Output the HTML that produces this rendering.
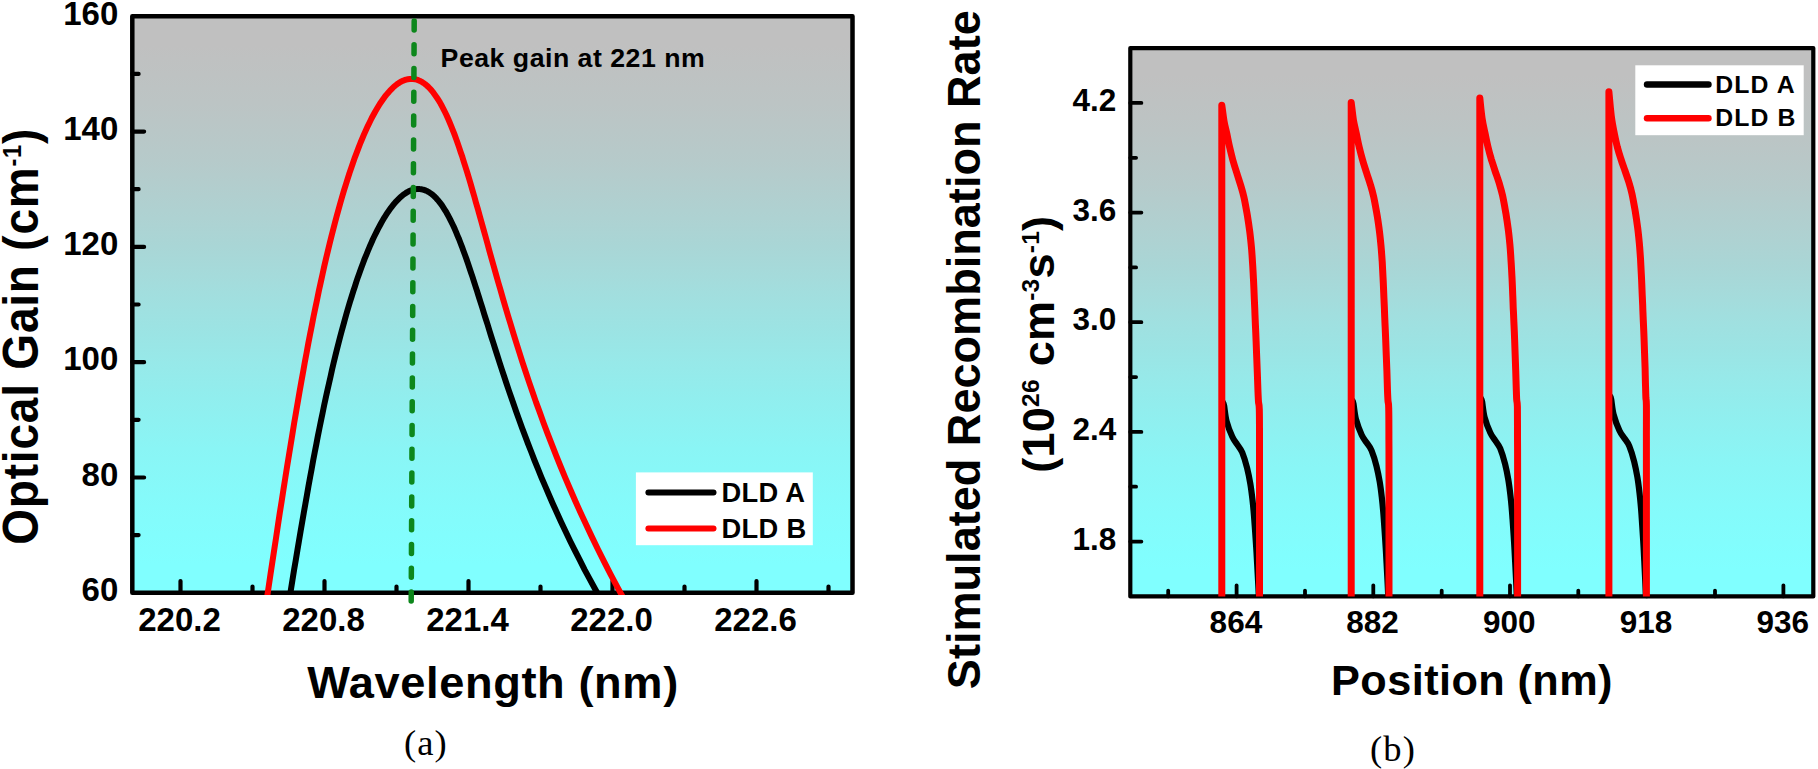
<!DOCTYPE html>
<html lang="en">
<head>
<meta charset="utf-8">
<title>Optical gain and stimulated recombination rate</title>
<style>
html,body{margin:0;padding:0;background:#fff;}
body{width:1818px;height:769px;overflow:hidden;}
svg{display:block;}
text{font-family:"Liberation Sans",sans-serif;font-weight:bold;fill:#000;}
text.cap{font-family:"Liberation Serif",serif;font-weight:normal;}
</style>
</head>
<body>
<svg width="1818" height="769" viewBox="0 0 1818 769">
<defs>
<linearGradient id="bg" x1="0" y1="0" x2="0" y2="1">
<stop offset="0.00" stop-color="#c0c0c0"/>
<stop offset="0.05" stop-color="#c0c0c0"/>
<stop offset="0.10" stop-color="#bec2c2"/>
<stop offset="0.15" stop-color="#bcc4c4"/>
<stop offset="0.20" stop-color="#b9c7c7"/>
<stop offset="0.25" stop-color="#b6caca"/>
<stop offset="0.30" stop-color="#b2cece"/>
<stop offset="0.35" stop-color="#aed2d2"/>
<stop offset="0.40" stop-color="#a9d6d6"/>
<stop offset="0.45" stop-color="#a5dbdb"/>
<stop offset="0.50" stop-color="#a0e0e0"/>
<stop offset="0.55" stop-color="#9be4e4"/>
<stop offset="0.60" stop-color="#97e9e9"/>
<stop offset="0.65" stop-color="#92eded"/>
<stop offset="0.70" stop-color="#8ef1f1"/>
<stop offset="0.75" stop-color="#8af5f5"/>
<stop offset="0.80" stop-color="#87f8f8"/>
<stop offset="0.85" stop-color="#84fbfb"/>
<stop offset="0.90" stop-color="#82fdfd"/>
<stop offset="0.95" stop-color="#80ffff"/>
<stop offset="1.00" stop-color="#80ffff"/>
</linearGradient>
<clipPath id="clipL"><rect x="132.3" y="16.3" width="720.2" height="578.8"/></clipPath>
<clipPath id="clipR"><rect x="1130.3" y="48.1" width="683.0" height="548.3"/></clipPath>
</defs>
<rect width="1818" height="769" fill="#fff"/>

<g id="plot-a">
<rect x="132.3" y="16.3" width="720.2" height="576.5" fill="url(#bg)"/>
<path d="M180.5,592.8V581.0M252.5,592.8V586.5M324.5,592.8V581.0M396.5,592.8V586.5M468.5,592.8V581.0M540.5,592.8V586.5M612.5,592.8V581.0M684.5,592.8V586.5M756.5,592.8V581.0M828.5,592.8V586.5M132.3,477.5H144.1M132.3,362.2H144.1M132.3,246.9H144.1M132.3,131.6H144.1M132.3,535.1H138.6M132.3,419.8H138.6M132.3,304.5H138.6M132.3,189.2H138.6M132.3,73.9H138.6" fill="none" stroke="#000" stroke-width="4.2" stroke-linecap="round"/>
<rect x="132.3" y="16.3" width="720.2" height="576.5" fill="none" stroke="#000" stroke-width="4.5" stroke-linejoin="round"/>
<g clip-path="url(#clipL)" fill="none" stroke-linejoin="round" stroke-linecap="round">
<path d="M289.2,600.0 L290.9,589.8 L292.5,579.7 L294.1,569.8 L295.8,559.9 L297.4,550.2 L299.0,540.7 L300.6,531.2 L302.2,521.9 L303.8,512.7 L305.4,503.7 L307.0,494.7 L308.5,485.9 L310.1,477.3 L311.7,468.7 L313.2,460.3 L314.8,452.0 L316.4,443.9 L317.9,435.9 L319.5,428.0 L321.1,420.2 L322.7,412.5 L324.2,405.0 L325.8,397.6 L327.4,390.4 L329.0,383.3 L330.6,376.3 L332.1,369.4 L333.7,362.6 L335.3,356.0 L336.9,349.5 L338.5,343.2 L340.1,337.0 L341.7,330.9 L343.4,324.9 L345.0,319.0 L346.6,313.3 L348.2,307.7 L349.8,302.3 L351.5,297.0 L353.1,291.8 L354.8,286.7 L356.4,281.7 L358.0,276.9 L359.7,272.2 L361.3,267.7 L363.0,263.2 L364.6,258.9 L366.3,254.8 L368.0,250.7 L369.6,246.8 L371.3,243.0 L372.9,239.3 L374.6,235.8 L376.3,232.4 L377.9,229.1 L379.6,226.0 L381.2,223.0 L382.9,220.1 L384.5,217.3 L386.2,214.7 L387.8,212.2 L389.5,209.8 L391.1,207.6 L392.8,205.4 L394.4,203.4 L396.0,201.6 L397.7,199.9 L399.3,198.2 L400.9,196.8 L402.5,195.4 L404.1,194.2 L405.7,193.1 L407.3,192.1 L408.9,191.3 L410.5,190.6 L412.1,190.0 L413.6,189.6 L415.2,189.3 L416.7,189.1 L418.3,189.0 L419.8,189.1 L421.3,189.3 L422.9,189.6 L424.4,190.0 L425.9,190.6 L427.4,191.3 L428.9,192.1 L430.3,193.1 L431.8,194.2 L433.3,195.4 L434.8,196.8 L436.2,198.2 L437.7,199.9 L439.1,201.6 L440.5,203.4 L442.0,205.4 L443.4,207.6 L444.8,209.8 L446.3,212.2 L447.7,214.7 L449.1,217.3 L450.5,220.1 L451.9,223.0 L453.4,226.0 L454.8,229.1 L456.2,232.4 L457.6,235.8 L459.1,239.3 L460.5,243.0 L462.0,246.8 L463.4,250.7 L464.9,254.8 L466.4,258.9 L467.9,263.2 L469.4,267.7 L470.9,272.2 L472.5,276.9 L474.0,281.7 L475.6,286.7 L477.3,291.8 L478.9,297.0 L480.6,302.3 L482.3,307.7 L484.0,313.3 L485.8,319.0 L487.7,324.9 L489.5,330.9 L491.4,337.0 L493.4,343.2 L495.4,349.5 L497.5,356.0 L499.6,362.6 L501.8,369.4 L504.1,376.3 L506.4,383.3 L508.8,390.4 L511.3,397.6 L513.9,405.0 L516.5,412.5 L519.3,420.2 L522.1,428.0 L525.1,435.9 L528.1,443.9 L531.3,452.0 L534.5,460.3 L537.9,468.7 L541.4,477.3 L545.1,485.9 L548.9,494.7 L552.8,503.7 L556.9,512.7 L561.1,521.9 L565.5,531.2 L570.0,540.7 L574.7,550.2 L579.7,559.9 L584.7,569.8 L590.0,579.7 L595.5,589.8 L601.2,600.0" stroke="#000" stroke-width="6"/>
<path d="M266.7,600.0 L268.6,587.1 L270.5,574.3 L272.4,561.7 L274.3,549.2 L276.2,536.9 L278.0,524.8 L279.8,512.8 L281.7,501.0 L283.5,489.3 L285.3,477.9 L287.1,466.5 L288.9,455.4 L290.7,444.4 L292.5,433.6 L294.2,422.9 L296.0,412.4 L297.8,402.1 L299.5,391.9 L301.3,381.9 L303.1,372.0 L304.8,362.3 L306.6,352.8 L308.3,343.4 L310.1,334.2 L311.9,325.2 L313.6,316.3 L315.4,307.6 L317.2,299.1 L318.9,290.7 L320.7,282.5 L322.5,274.4 L324.2,266.5 L326.0,258.8 L327.8,251.2 L329.6,243.8 L331.4,236.5 L333.2,229.4 L335.0,222.5 L336.8,215.8 L338.6,209.2 L340.4,202.7 L342.2,196.5 L344.0,190.4 L345.9,184.4 L347.7,178.6 L349.5,173.0 L351.4,167.6 L353.2,162.3 L355.0,157.1 L356.9,152.2 L358.7,147.4 L360.5,142.7 L362.4,138.3 L364.2,133.9 L366.1,129.8 L367.9,125.8 L369.8,122.0 L371.6,118.3 L373.5,114.8 L375.3,111.5 L377.2,108.3 L379.0,105.3 L380.8,102.4 L382.7,99.7 L384.5,97.2 L386.3,94.9 L388.2,92.7 L390.0,90.6 L391.8,88.8 L393.6,87.0 L395.4,85.5 L397.2,84.1 L399.0,82.9 L400.8,81.8 L402.6,80.9 L404.4,80.2 L406.1,79.6 L407.9,79.2 L409.7,79.0 L411.4,78.9 L413.1,79.0 L414.9,79.2 L416.6,79.6 L418.3,80.2 L420.0,80.9 L421.7,81.8 L423.4,82.9 L425.1,84.1 L426.8,85.5 L428.4,87.0 L430.1,88.8 L431.7,90.6 L433.4,92.7 L435.0,94.9 L436.6,97.2 L438.3,99.7 L439.9,102.4 L441.5,105.3 L443.1,108.3 L444.7,111.5 L446.3,114.8 L447.9,118.3 L449.5,122.0 L451.1,125.8 L452.7,129.8 L454.3,133.9 L455.9,138.3 L457.5,142.7 L459.1,147.4 L460.7,152.2 L462.4,157.1 L464.0,162.3 L465.7,167.6 L467.4,173.0 L469.1,178.6 L470.8,184.4 L472.5,190.4 L474.3,196.5 L476.0,202.7 L477.9,209.2 L479.7,215.8 L481.6,222.5 L483.5,229.4 L485.5,236.5 L487.5,243.8 L489.5,251.2 L491.6,258.8 L493.8,266.5 L496.0,274.4 L498.3,282.5 L500.7,290.7 L503.1,299.1 L505.6,307.6 L508.2,316.3 L510.9,325.2 L513.6,334.2 L516.5,343.4 L519.5,352.8 L522.5,362.3 L525.7,372.0 L529.0,381.9 L532.5,391.9 L536.0,402.1 L539.8,412.4 L543.6,422.9 L547.6,433.6 L551.8,444.4 L556.1,455.4 L560.6,466.5 L565.3,477.9 L570.2,489.3 L575.3,501.0 L580.6,512.8 L586.2,524.8 L591.9,536.9 L597.9,549.2 L604.1,561.7 L610.6,574.3 L617.4,587.1 L624.4,600.0" stroke="#ff0000" stroke-width="6"/>
</g>
<line x1="414.2" y1="20.9" x2="411.2" y2="601.2" stroke="#0d871c" stroke-width="5.5" stroke-linecap="round" stroke-dasharray="9 14.8"/>
<rect x="635.9" y="472.4" width="176.9" height="72.8" fill="#fff"/>
<line x1="648.4" y1="492.5" x2="713.5" y2="492.5" stroke="#000" stroke-width="6" stroke-linecap="round"/>
<line x1="648.4" y1="528.5" x2="713.5" y2="528.5" stroke="#ff0000" stroke-width="6" stroke-linecap="round"/>
<text x="721.5" y="501.9" font-size="27.3" letter-spacing="0.3">DLD A</text>
<text x="721.5" y="538" font-size="27.3" letter-spacing="0.3">DLD B</text>
<text x="440.6" y="67" font-size="26.7" letter-spacing="0.5">Peak gain at 221 nm</text>
<text x="118.3" y="601.0" font-size="33" text-anchor="end">60</text>
<text x="118.3" y="485.7" font-size="33" text-anchor="end">80</text>
<text x="118.3" y="370.4" font-size="33" text-anchor="end">100</text>
<text x="118.3" y="255.1" font-size="33" text-anchor="end">120</text>
<text x="118.3" y="139.8" font-size="33" text-anchor="end">140</text>
<text x="118.3" y="24.5" font-size="33" text-anchor="end">160</text>
<text x="179.5" y="630.6" font-size="33" text-anchor="middle">220.2</text>
<text x="323.5" y="630.6" font-size="33" text-anchor="middle">220.8</text>
<text x="467.5" y="630.6" font-size="33" text-anchor="middle">221.4</text>
<text x="611.5" y="630.6" font-size="33" text-anchor="middle">222.0</text>
<text x="755.5" y="630.6" font-size="33" text-anchor="middle">222.6</text>
<text x="493" y="698.2" font-size="45.2" letter-spacing="0.62" text-anchor="middle">Wavelength (nm)</text>
<text transform="translate(37.9,336.3) rotate(-90) scale(1,1.07)" font-size="46" letter-spacing="0.8" text-anchor="middle">Optical Gain (cm<tspan font-size="23.5" dy="-16">-1</tspan><tspan dy="16">)</tspan></text>
<text class="cap" x="425.8" y="755" font-size="36.5" letter-spacing="1.1" text-anchor="middle">(a)</text>
</g>
<g id="plot-b">
<rect x="1130.3" y="48.1" width="683.0" height="548.3" fill="url(#bg)"/>
<path d="M1236.6,596.4V585.3M1168.2,596.4V590.6M1373.3,596.4V585.3M1305.0,596.4V590.6M1510.0,596.4V585.3M1441.7,596.4V590.6M1646.7,596.4V585.3M1578.3,596.4V590.6M1783.4,596.4V585.3M1715.0,596.4V590.6M1130.3,541.6H1141.4M1130.3,431.9H1141.4M1130.3,322.2H1141.4M1130.3,212.6H1141.4M1130.3,102.9H1141.4M1130.3,486.7H1136.1M1130.3,377.1H1136.1M1130.3,267.4H1136.1M1130.3,157.8H1136.1" fill="none" stroke="#000" stroke-width="3.8" stroke-linecap="round"/>
<rect x="1130.3" y="48.1" width="683.0" height="548.3" fill="none" stroke="#000" stroke-width="4.2" stroke-linejoin="round"/>
<g clip-path="url(#clipR)" fill="none" stroke-linejoin="round" stroke-linecap="round">
<path d="M1223.0,402.5C1223.2,403.0 1223.5,402.5 1224.1,405.6C1224.7,408.7 1225.2,416.0 1226.6,421.2C1228.0,426.4 1230.5,432.9 1232.3,436.8C1234.1,440.7 1235.6,442.0 1237.3,444.6C1239.0,447.2 1240.6,448.5 1242.2,452.4C1243.8,456.3 1245.8,462.8 1247.1,468.0C1248.4,473.2 1249.4,478.4 1250.3,483.6C1251.2,488.8 1251.9,494.8 1252.4,499.2C1252.9,503.6 1253.2,506.3 1253.5,510.0C1253.8,513.7 1253.9,514.1 1254.4,521.2C1254.9,528.3 1255.9,542.0 1256.5,552.4C1257.1,562.8 1257.8,576.3 1258.2,583.6C1258.6,590.9 1258.7,594.3 1258.8,596.4" stroke="#000" stroke-width="6.2"/>
<path d="M1352.4,400.7C1352.6,401.2 1352.9,400.7 1353.5,403.8C1354.1,406.9 1354.6,414.2 1356.0,419.4C1357.4,424.6 1359.9,431.1 1361.7,435.0C1363.5,438.9 1365.0,440.2 1366.7,442.8C1368.4,445.4 1370.0,446.7 1371.6,450.6C1373.2,454.5 1375.2,461.0 1376.5,466.2C1377.8,471.4 1378.8,476.6 1379.7,481.8C1380.6,487.0 1381.3,493.0 1381.8,497.4C1382.3,501.8 1382.6,504.5 1382.9,508.2C1383.2,511.9 1383.3,512.3 1383.8,519.4C1384.3,526.5 1385.3,540.4 1385.9,551.1C1386.5,561.7 1387.2,575.7 1387.6,583.2C1388.0,590.8 1388.1,594.2 1388.2,596.4" stroke="#000" stroke-width="6.2"/>
<path d="M1481.0,398.5C1481.2,399.0 1481.5,398.5 1482.1,401.6C1482.7,404.7 1483.2,412.0 1484.6,417.2C1486.0,422.4 1488.5,428.9 1490.3,432.8C1492.1,436.7 1493.6,438.0 1495.3,440.6C1497.0,443.2 1498.6,444.5 1500.2,448.4C1501.8,452.3 1503.8,458.8 1505.1,464.0C1506.4,469.2 1507.4,474.4 1508.3,479.6C1509.2,484.8 1509.9,490.8 1510.4,495.2C1510.9,499.6 1511.2,502.3 1511.5,506.0C1511.8,509.7 1511.9,510.0 1512.4,517.2C1512.9,524.4 1513.9,538.5 1514.5,549.5C1515.1,560.4 1515.8,574.9 1516.2,582.7C1516.6,590.6 1516.7,594.1 1516.8,596.4" stroke="#000" stroke-width="6.2"/>
<path d="M1610.1,396.2C1610.3,396.7 1610.6,396.2 1611.2,399.3C1611.8,402.4 1612.3,409.7 1613.7,414.9C1615.1,420.1 1617.6,426.6 1619.4,430.5C1621.2,434.4 1622.8,435.7 1624.4,438.3C1626.1,440.9 1627.7,442.2 1629.3,446.1C1630.9,450.0 1632.9,456.5 1634.2,461.7C1635.5,466.9 1636.5,472.1 1637.4,477.3C1638.3,482.5 1639.0,488.5 1639.5,492.9C1640.0,497.3 1640.3,500.0 1640.6,503.7C1640.9,507.4 1641.0,507.6 1641.5,514.9C1642.0,522.2 1643.0,536.6 1643.6,547.8C1644.2,559.0 1644.9,574.2 1645.3,582.3C1645.7,590.4 1645.8,594.0 1645.9,596.4" stroke="#000" stroke-width="6.2"/>
<path d="M1221.8,601.4L1221.8,105.3C1222.2,107.9 1223.2,116.2 1224.0,121.0C1224.8,125.8 1226.0,129.7 1226.9,134.0C1227.8,138.3 1228.6,142.7 1229.6,147.0C1230.6,151.3 1231.7,155.7 1232.8,160.0C1234.0,164.3 1235.4,168.7 1236.8,173.0C1238.1,177.3 1239.7,181.9 1240.9,186.0C1242.1,190.1 1242.9,192.6 1244.0,197.5C1245.1,202.4 1246.4,210.0 1247.4,215.6C1248.3,221.2 1249.0,226.0 1249.7,231.2C1250.4,236.4 1250.9,241.6 1251.4,246.8C1251.9,252.0 1252.2,257.2 1252.5,262.4C1252.9,267.6 1253.1,272.8 1253.4,278.0C1253.7,283.2 1253.9,288.4 1254.1,293.6C1254.3,298.9 1254.6,305.1 1254.8,309.5C1254.9,313.9 1255.0,314.7 1255.2,320.0C1255.4,325.3 1255.8,332.5 1256.1,341.2C1256.4,349.9 1257.0,363.9 1257.3,372.4C1257.6,380.9 1257.8,387.1 1258.0,392.0C1258.2,396.9 1258.3,399.2 1258.5,402.0C1258.7,404.8 1259.1,402.7 1259.3,409.0C1259.5,415.3 1259.5,429.8 1259.5,440.0C1259.5,450.2 1259.5,465.0 1259.5,470.0L1259.5,601.4" stroke="#ff0000" stroke-width="7"/>
<path d="M1351.2,601.4L1351.2,102.4C1351.6,105.3 1352.6,114.7 1353.4,120.0C1354.3,125.2 1355.5,129.5 1356.4,134.0C1357.4,138.5 1358.1,142.7 1359.2,147.0C1360.2,151.3 1361.3,155.5 1362.5,159.7C1363.6,163.9 1365.0,168.0 1366.4,172.2C1367.7,176.5 1369.3,181.0 1370.5,185.0C1371.7,189.0 1372.5,191.6 1373.6,196.5C1374.7,201.4 1376.0,209.0 1377.0,214.6C1378.0,220.2 1378.6,225.0 1379.3,230.2C1380.0,235.4 1380.5,240.6 1381.0,245.8C1381.5,251.0 1381.8,256.2 1382.2,261.4C1382.5,266.6 1382.7,271.8 1383.0,277.0C1383.3,282.2 1383.5,287.4 1383.7,292.6C1383.9,297.9 1384.2,304.1 1384.4,308.5C1384.5,312.9 1384.6,313.7 1384.8,319.0C1385.0,324.3 1385.4,331.5 1385.7,340.2C1386.0,348.9 1386.6,362.9 1386.9,371.4C1387.2,379.9 1387.3,386.1 1387.5,391.0C1387.7,395.9 1387.8,398.2 1388.0,401.0C1388.2,403.8 1388.6,401.7 1388.7,408.0C1388.9,414.3 1388.9,428.8 1388.9,439.0C1389.0,449.2 1389.0,464.0 1389.0,469.0L1389.0,601.4" stroke="#ff0000" stroke-width="7"/>
<path d="M1479.8,601.4L1479.8,98.0C1480.2,101.4 1481.2,112.4 1482.1,118.4C1483.0,124.4 1484.2,129.2 1485.2,134.0C1486.1,138.7 1487.0,142.8 1488.0,147.0C1489.0,151.2 1490.1,155.2 1491.3,159.3C1492.6,163.3 1493.9,167.2 1495.2,171.3C1496.6,175.4 1498.2,179.8 1499.4,183.8C1500.6,187.8 1501.4,190.4 1502.5,195.3C1503.6,200.2 1504.9,207.8 1505.9,213.4C1506.8,219.0 1507.5,223.8 1508.2,229.0C1508.9,234.2 1509.4,239.4 1509.9,244.6C1510.4,249.8 1510.7,255.0 1511.0,260.2C1511.4,265.4 1511.6,270.6 1511.9,275.8C1512.2,281.0 1512.4,286.2 1512.6,291.4C1512.8,296.7 1513.1,302.9 1513.2,307.3C1513.4,311.7 1513.5,312.5 1513.7,317.8C1513.9,323.1 1514.3,330.3 1514.6,339.0C1514.9,347.7 1515.4,361.7 1515.7,370.2C1516.0,378.7 1516.1,384.9 1516.3,389.8C1516.5,394.7 1516.5,397.0 1516.7,399.8C1516.9,402.6 1517.2,400.5 1517.4,406.8C1517.5,413.1 1517.5,427.6 1517.5,437.8C1517.6,448.0 1517.6,462.8 1517.6,467.8L1517.6,601.4" stroke="#ff0000" stroke-width="7"/>
<path d="M1608.9,601.4L1608.9,91.8C1609.3,95.9 1610.4,109.1 1611.3,116.1C1612.2,123.2 1613.4,128.8 1614.4,133.9C1615.4,139.1 1616.3,142.9 1617.3,147.0C1618.4,151.1 1619.5,154.8 1620.8,158.6C1622.0,162.5 1623.3,166.0 1624.7,169.9C1626.0,173.8 1627.6,178.1 1628.8,182.0C1630.0,185.9 1630.8,188.6 1631.9,193.5C1633.0,198.4 1634.3,206.0 1635.3,211.6C1636.2,217.2 1636.9,222.0 1637.6,227.2C1638.3,232.4 1638.8,237.6 1639.3,242.8C1639.8,248.0 1640.1,253.2 1640.5,258.4C1640.8,263.6 1641.0,268.8 1641.3,274.0C1641.6,279.2 1641.8,284.4 1642.0,289.6C1642.2,294.9 1642.5,301.1 1642.7,305.5C1642.8,309.9 1642.9,310.7 1643.1,316.0C1643.3,321.3 1643.7,328.5 1644.0,337.2C1644.3,345.9 1644.8,359.9 1645.1,368.4C1645.3,376.9 1645.4,383.1 1645.6,388.0C1645.7,392.9 1645.8,395.2 1645.9,398.0C1646.1,400.8 1646.3,398.7 1646.4,405.0C1646.5,411.3 1646.4,425.8 1646.4,436.0C1646.4,446.2 1646.4,461.0 1646.4,466.0L1646.4,601.4" stroke="#ff0000" stroke-width="7"/>
</g>
<rect x="1635.3" y="65.3" width="168.4" height="69.9" fill="#fff"/>
<line x1="1647" y1="84.5" x2="1708.5" y2="84.5" stroke="#000" stroke-width="6.4" stroke-linecap="round"/>
<line x1="1647" y1="118.3" x2="1708.5" y2="118.3" stroke="#ff0000" stroke-width="6.4" stroke-linecap="round"/>
<text x="1715.3" y="92.7" font-size="24.8" letter-spacing="1.1">DLD A</text>
<text x="1715.3" y="126.2" font-size="24.8" letter-spacing="1.1">DLD B</text>
<text x="1116.3" y="549.8" font-size="31.5" text-anchor="end">1.8</text>
<text x="1116.3" y="440.1" font-size="31.5" text-anchor="end">2.4</text>
<text x="1116.3" y="330.4" font-size="31.5" text-anchor="end">3.0</text>
<text x="1116.3" y="220.8" font-size="31.5" text-anchor="end">3.6</text>
<text x="1116.3" y="111.1" font-size="31.5" text-anchor="end">4.2</text>
<text x="1235.9" y="632.7" font-size="31.5" text-anchor="middle">864</text>
<text x="1372.6" y="632.7" font-size="31.5" text-anchor="middle">882</text>
<text x="1509.3" y="632.7" font-size="31.5" text-anchor="middle">900</text>
<text x="1646.0" y="632.7" font-size="31.5" text-anchor="middle">918</text>
<text x="1782.7" y="632.7" font-size="31.5" text-anchor="middle">936</text>
<text x="1472" y="694.6" font-size="43.3" letter-spacing="0.4" text-anchor="middle">Position (nm)</text>
<text transform="translate(980.3,349.7) rotate(-90) scale(1,1.03)" font-size="45.1" letter-spacing="0" text-anchor="middle">Stimulated Recombination Rate</text>
<text transform="translate(1054.4,344.2) rotate(-90)" font-size="45" letter-spacing="0.25" text-anchor="middle">(10<tspan font-size="24.5" dy="-15.5">26</tspan><tspan dy="15.5"> cm</tspan><tspan font-size="24.5" dy="-15.5">-3</tspan><tspan dy="15.5">s</tspan><tspan font-size="24.5" dy="-15.5">-1</tspan><tspan dy="15.5">)</tspan></text>
<text class="cap" x="1393" y="760.8" font-size="36.5" letter-spacing="1.1" text-anchor="middle">(b)</text>
</g>
</svg>
</body>
</html>
